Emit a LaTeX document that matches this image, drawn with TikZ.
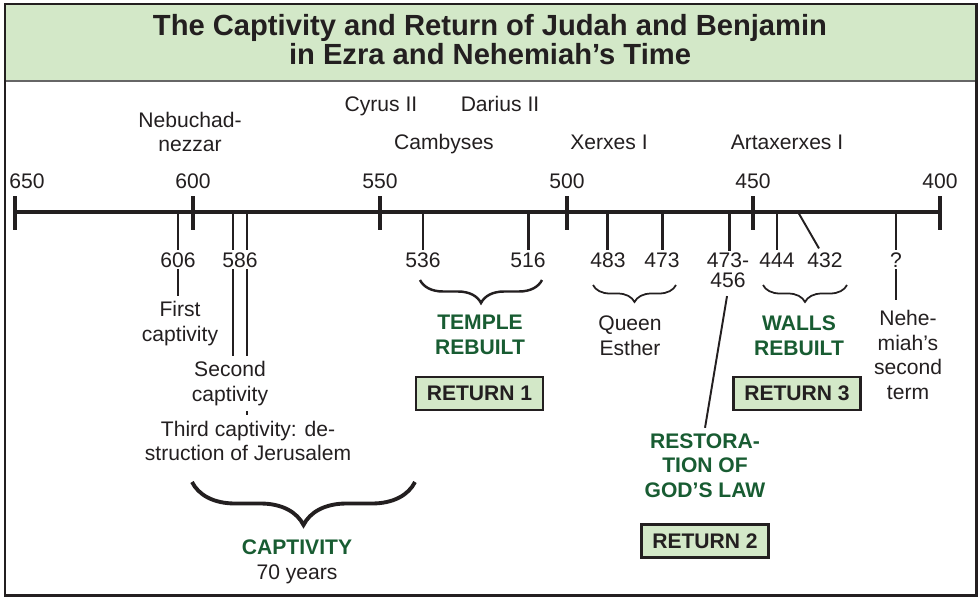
\documentclass[tikz,border=0pt]{standalone}
\usepackage{fontspec}
\setmainfont{Liberation Sans}
\usetikzlibrary{positioning,decorations.pathreplacing}
\definecolor{ink}{RGB}{35,31,32}
\definecolor{leaf}{RGB}{211,232,200}
\definecolor{pine}{RGB}{24,92,50}

\begin{document}
\begin{tikzpicture}[x=0.02cm, y=-0.02cm, ink,
  every node/.style={font=\fontsize{12}{14}\selectfont, text=ink, inner sep=1pt},
  txt/.style={align=center, inner sep=3pt},
  hd/.style={align=center, inner sep=3pt, font=\fontsize{12}{14}\selectfont\bfseries, text=pine},
  retbox/.style={draw=ink, line width=1.5pt, fill=leaf, font=\fontsize{12}{14}\selectfont\bfseries,
    minimum width=2.54cm, minimum height=0.66cm, inner sep=0pt},
  major/.style={line width=2.3pt},
  minor/.style={line width=1.7pt},
  fine/.style={line width=1.1pt},
  brc/.style={decorate, decoration={brace, mirror, amplitude=#1}},
]
  \useasboundingbox (0,0) rectangle (980,602);

  % frame and title
  \fill[leaf] (5,4) rectangle (976,81);
  \draw[line width=1.2pt, black!60] (5,81) -- (976,81);
  \draw[line width=1.7pt] (5,4) rectangle (976,595);
  \node[font=\fontsize{16.6}{16.5}\selectfont\bfseries, align=center] (title) at (490,39.5)
    {The Captivity and Return of Judah and Benjamin\\in Ezra and Nehemiah’s Time};

  % time axis
  \coordinate (a650) at (15,212);
  \coordinate (a400) at (940,212);
  \draw[line width=2.8pt] (a650) -- (a400);
  \foreach \x/\lx/\yr in {15/27/650, 193/193/600, 380/380/550, 567/567/500, 753/753/450, 940/940/400}{
    \draw[major] (\x,196) -- (\x,230);
    \node[anchor=base] (y\yr) at (\lx,188) {\yr};
  }

  % kings
  \node[txt] (nebu) at (190,132) {Nebuchad-\\nezzar};
  \node[anchor=base] (cyrus) at (381,111) {Cyrus II};
  \node[anchor=base] (darius) at (500,111) {Darius II};
  \node[anchor=base] (camb) at (444,149) {Cambyses};
  \node[anchor=base] (xerx) at (609,149) {Xerxes I};
  \node[anchor=base] (artax) at (787,149) {Artaxerxes I};

  % points on the axis
  \coordinate (t606) at (178,212);
  \coordinate (t586a) at (233,212);
  \coordinate (t586b) at (247,212);
  \coordinate (t536) at (423,212);
  \coordinate (t516) at (528,212);
  \coordinate (t483) at (607,212);
  \coordinate (t473) at (662,212);
  \coordinate (t456) at (729,212);
  \coordinate (t444) at (777,212);
  \coordinate (t432) at (798,212);
  \coordinate (tq) at (896,212);

  % dates
  \node[anchor=base] (d606) at (178,267) {606};
  \node[anchor=base] (d586) at (240,267) {586};
  \node[anchor=base] (d536) at (423,267) {536};
  \node[anchor=base] (d516) at (528,267) {516};
  \node[anchor=base] (d483) at (608,267) {483};
  \node[anchor=base] (d473) at (662,267) {473};
  \node[align=center, font=\fontsize{12}{11.5}\selectfont] (d456) at (728,270.5) {473-\\456};
  \node[anchor=base] (d444) at (777,267) {444};
  \node[anchor=base] (d432) at (825,267) {432};
  \node[anchor=base] (dq) at (896,267) {?};

  % events
  \node[txt] (first) at (180,323.5) {First\\captivity};
  \node[txt] (second) at (230,383.5) {Second\\captivity};
  \node[txt] (third) at (248,441) {Third captivity: de-\\struction of Jerusalem};
  \node[hd] (temple) at (480,335) {TEMPLE\\REBUILT};
  \node[txt] (esther) at (630,336) {Queen\\Esther};
  \node[hd] (walls) at (799,336) {WALLS\\REBUILT};
  \node[txt] (nehe) at (908,355) {Nehe-\\miah’s\\second\\term};
  \node[hd] (law) at (705,465.5) {RESTORA-\\TION OF\\GOD’S LAW};
  \node[hd] (capt) at (297,562) {CAPTIVITY\\{\mdseries\color{ink}70 years}};

  % returns
  \node[retbox] (ret1) at (479.5,393.5) {RETURN 1};
  \node[retbox] (ret3) at (797,393.5) {RETURN 3};
  \node[retbox] (ret2) at (705,541) {RETURN 2};

  % ticks and leaders
  \draw[fine] (t606) -- (d606.north);
  \draw[fine] (d606.south) -- (t606 |- first.north);
  \draw[minor] (t586a) -- (t586a |- d586.north);
  \draw[minor] (t586a |- d586.south) -- (t586a |- second.north);
  \draw[minor] (t586b) -- (t586b |- d586.north);
  \draw[minor] (t586b |- d586.south) -- (t586b |- second.north);
  \draw[minor] (t586b |- second.south) -- (t586b |- third.north);
  \draw[minor] (t536) -- (d536.north);
  \draw[minor] (t516) -- (d516.north);
  \draw[minor] (t483) -- (t483 |- d483.north);
  \draw[minor] (t473) -- (d473.north);
  \draw[minor] (t456) -- (t456 |- d456.north);
  \draw[fine, shorten <=0.12cm] (d456.south) -- (law.north);
  \draw[fine] (t444) -- (d444.north);
  \draw[fine, shorten >=0.04cm] (t432) -- ([xshift=-0.1cm]d432.north);
  \draw[fine] (tq) -- (dq.north);
  \draw[fine, shorten >=0.1cm] (dq.south) -- (tq |- nehe.north);

  % braces
  \draw[brc=0.46cm, line width=1.4pt] (420,280) -- (542,280);
  \draw[brc=0.34cm, line width=1pt] (593,285) -- (676,285);
  \draw[brc=0.34cm, line width=1pt] (763,285) -- (847,285);
  \draw[brc=0.86cm, line width=2.2pt] (192,482) -- (415,482);
\end{tikzpicture}
\end{document}
